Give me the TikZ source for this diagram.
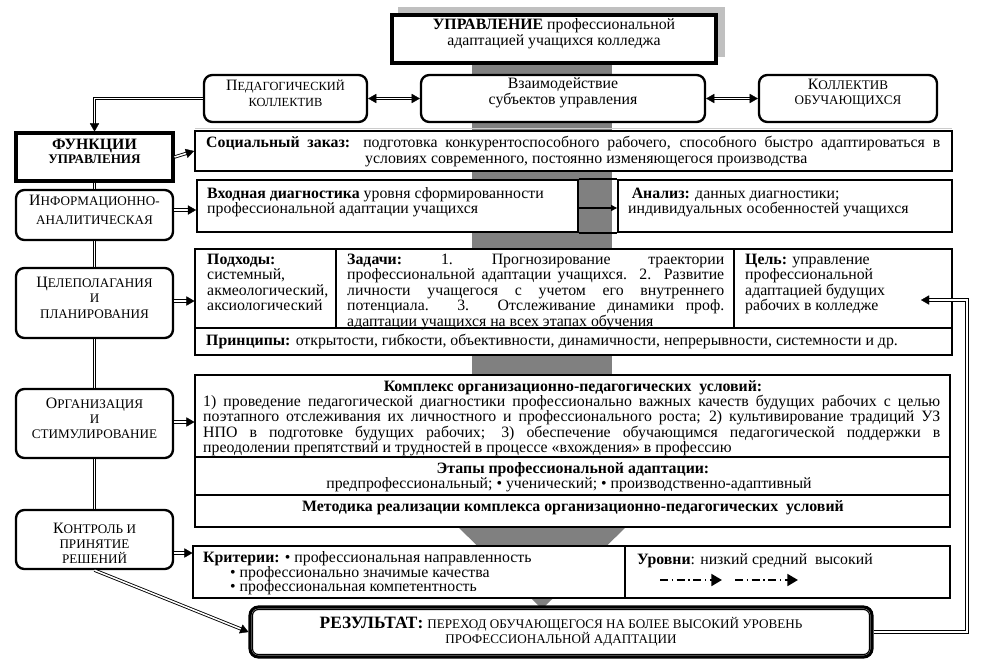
\documentclass[tikz,border=0pt]{standalone}
\usepackage{fontspec}
\setmainfont{Liberation Serif}
\usetikzlibrary{arrows.meta,fit,calc}
\definecolor{lgr}{RGB}{192,192,192}
\definecolor{dgr}{RGB}{128,128,128}
\newcommand{\sca}[1]{{\fontsize{11.2}{12}\selectfont #1}}
\newcommand{\jline}[2]{\makebox[#1][s]{#2}}
\newcommand{\ptop}[1]{\parbox[t]{24cm}{#1}}
\newcommand{\dar}[1]{\draw[dbl, shorten >=6pt] #1; \draw[tipw] #1;}
\newcommand{\ddar}[1]{\draw[dbl, shorten >=6pt, shorten <=6pt] #1; \draw[tipww] #1;}
\begin{document}
\begin{tikzpicture}[x=0.03cm,y=-0.03cm,
  txt/.style={font=\fontsize{13.5}{13.3}\selectfont, inner sep=0pt, anchor=base west},
  ctxt/.style={font=\fontsize{13.5}{13.3}\selectfont, inner sep=0pt, anchor=base},
  rbox/.style={draw, fill=white, line width=2pt, rounded corners=0.25cm, inner sep=0pt, align=center, font=\fontsize{13.5}{13}\selectfont},
  sbox/.style={draw, fill=white, line width=1.6pt, inner sep=0pt},
  tbox/.style={draw, fill=white, line width=0.9pt, inner sep=0pt},
  dbl/.style={draw, line width=0.75pt, double=white, double distance=1.3pt},
  tipw/.style={white, line width=0.3pt, -{Triangle[length=7pt,width=8pt,color=black]}},
  tipww/.style={white, line width=0.3pt, {Triangle[length=7pt,width=8pt,color=black]}-{Triangle[length=7pt,width=8pt,color=black]}},
  lvl/.style={line width=2pt, dash pattern=on 7pt off 3pt on 1.2pt off 3pt, -{Triangle[length=9pt,width=10pt]}},
]
\useasboundingbox (0,0) rectangle (988,661);
% background
\fill[lgr] (398,7) rectangle (725,57);
\fill[dgr] (472,55) rectangle (612,527);
\fill[dgr] (457,526) -- (627,526) -- (542,609) -- cycle;
\draw[gray!40, line width=0.6pt] (195,128) -- (952,128);

% top
\node[draw, fill=white, line width=2.6pt, inner sep=0pt, align=center, font=\fontsize{13.5}{13.5}\selectfont, fit={(392,15) (716,63)}] (top) {\textbf{УПРАВЛЕНИЕ} профессиональной\\адаптацией учащихся колледжа};

\node[rbox, fit={(204,75) (367,122)}] (ped) {П{\fontsize{10.6}{12}\selectfont ЕДАГОГИЧЕСКИЙ}\\{\fontsize{10.6}{12}\selectfont КОЛЛЕКТИВ}};
\node[rbox, fit={(421,75) (705,122)}, font=\fontsize{13.5}{13.5}\selectfont] (vz) {Взаимодействие\\субъектов управления};
\node[rbox, fit={(759,75) (937,122)}] (kol) {К\sca{ОЛЛЕКТИВ}\\\sca{ОБУЧАЮЩИХСЯ}};

% left column
\node[draw, fill=white, line width=2.6pt, inner sep=0pt, align=center, fit={(16,133) (173,181)}] (func) {{\bfseries\fontsize{13.5}{15}\selectfont ФУНКЦИИ}\\{\bfseries\sca{УПРАВЛЕНИЯ}}};
\node[rbox, fit={(16,190) (173,240)}] (info) {И\sca{НФОРМАЦИОННО-}\\[3pt]\sca{АНАЛИТИЧЕСКАЯ}};
\node[rbox, fit={(16,268) (173,338)}] (celi) {Ц\sca{ЕЛЕПОЛАГАНИЯ}\\\sca{И}\\\sca{ПЛАНИРОВАНИЯ}};
\node[rbox, fit={(16,389) (173,458)}] (org) {О\sca{РГАНИЗАЦИЯ}\\\sca{И}\\\sca{СТИМУЛИРОВАНИЕ}};
\node[rbox, fit={(16,510) (173,569)}] (kontr) {};
\node[inner sep=0pt, align=center, font=\fontsize{13.5}{13}\selectfont] (kontrt) at ($(kontr.center)+(0,4)$) {К\sca{ОНТРОЛЬ И}\\\sca{ПРИНЯТИЕ}\\\sca{РЕШЕНИЙ}};

% right blocks
\node[sbox, fit={(195,131) (952,171)}] (soc) {};
\node[sbox, fit={(197,180) (578,232)}] (vhod) {};
\node[sbox, fit={(618,180) (952,232)}] (analiz) {};
\draw[line width=1.6pt] (vhod.north east) -- (analiz.north west);
\draw[line width=1.6pt] (vhod.south east) -- (analiz.south west);

\node[tbox, fit={(195,249) (336,328)}] (podh) {};
\node[tbox, fit={(336,249) (734,328)}] (zad) {};
\node[tbox, fit={(734,249) (952,328)}] (cel) {};
\node[tbox, fit={(195,328) (952,355)}] (princ) {};
\draw[line width=1.8pt] (195,249) -- (357,249);
\draw[line width=1.8pt] (734,249) -- (952,249);

\node[tbox, fit={(195,375) (950,457)}] (k1) {};
\node[tbox, fit={(195,457) (950,495)}] (k2) {};
\node[tbox, fit={(195,495) (950,527)}] (k3) {};

\node[tbox, fit={(193,546) (625,598)}] (kr1) {};
\node[tbox, fit={(625,546) (950,598)}] (kr2) {};

\node[draw, fill=white, line width=2.6pt, rounded corners=0.25cm, inner sep=0pt, fit={(250,607) (872,657)}] (rez) {};
\draw[line width=1pt, rounded corners=0.18cm] ($(rez.north west)+(4,4)$) rectangle ($(rez.south east)+(-4,-4)$);

% texts
\node[txt] (s1) at (206,147) {\jline{22.02cm}{\textbf{Социальный заказ:} подготовка конкурентоспособного рабочего, способного быстро адаптироваться в}};
\node[txt] (s2) at (365,163) {условиях современного, постоянно изменяющегося производства};

\node[txt] (vt) at (207,198) {\ptop{\textbf{Входная диагностика} уровня сформированности\\профессиональной адаптации учащихся}};
\node[txt] (at) at (628,198) {\ptop{\hspace*{3pt}\textbf{Анализ:} данных диагностики;\\индивидуальных особенностей учащихся}};

\node[txt] (pt) at (207,264) {\ptop{\textbf{Подходы:}\\системный,\\акмеологический,\\аксиологический}};
\node[txt] (zt) at (347,264) {\ptop{\jline{11.31cm}{\textbf{Задачи:} \hfill 1. \hfill Прогнозирование \hfill траектории}\\
\jline{11.31cm}{профессиональной адаптации учащихся. 2. Развитие}\\
\jline{11.31cm}{личности учащегося с учетом его внутреннего}\\
\jline{11.31cm}{потенциала. 3. Отслеживание динамики проф.}\\
адаптации учащихся на всех этапах обучения}};
\node[txt] (ct) at (745,264) {\ptop{\textbf{Цель:} управление\\профессиональной\\адаптацией будущих\\рабочих в колледже}};
\node[txt] (prt) at (206,345) {\textbf{Принципы:} открытости, гибкости, объективности, динамичности, непрерывности, системности и др.};

\node[ctxt] (kt) at (573,391) {\textbf{Комплекс организационно-педагогических\ \ условий:}};
\node[txt] (kp) at (203,406) {\ptop{\jline{22.11cm}{1) проведение педагогической диагностики профессионально важных качеств будущих рабочих с целью}\\
\jline{22.11cm}{поэтапного отслеживания их личностного и профессионального роста; 2) культивирование традиций УЗ}\\
\jline{22.11cm}{НПО в подготовке будущих рабочих; 3) обеспечение обучающимся педагогической поддержки в}\\
преодолении препятствий и трудностей в процессе «вхождения» в профессию}};
\node[ctxt] (et1) at (573,473) {\textbf{Этапы профессиональной адаптации:}};
\node[ctxt] (et2) at (569,488) {предпрофессиональный; • ученический; • производственно-адаптивный};
\node[ctxt] (mt) at (573,511) {\textbf{Методика реализации комплекса организационно-педагогических\ \ условий}};

\node[txt] (krt1) at (203,562) {\textbf{Критерии:} • профессиональная направленность};
\node[txt] (krt2) at (230,577) {• профессионально значимые качества};
\node[txt] (krt3) at (230,591) {• профессиональная компетентность};
\node[txt] (ut) at (637,564) {\textbf{Уровни}: низкий средний\ \ высокий};
\coordinate (u1) at (660,580);
\coordinate (u2) at (722,580);
\coordinate (u3) at (735,580);
\coordinate (u4) at (798,580);
\draw[lvl] (u1) -- (u2);
\draw[lvl] (u3) -- (u4);

\node[ctxt] (rt1) at (561,628) {{\bfseries\fontsize{14.8}{15}\selectfont РЕЗУЛЬТАТ:} \sca{ПЕРЕХОД ОБУЧАЮЩЕГОСЯ НА БОЛЕЕ ВЫСОКИЙ УРОВЕНЬ}};
\node[ctxt] (rt2) at (561,643) {\sca{ПРОФЕССИОНАЛЬНОЙ АДАПТАЦИИ}};

% connectors
\ddar{(ped.east) -- (vz.west)}
\ddar{(vz.east) -- (kol.west)}
\dar{(ped.west) -- (ped.west -| func.north) -- (func.north)}
\dar{(func.east) -- (soc.west)}
\dar{(info.east |- 0,210) -- (vhod.west |- 0,210)}
\draw[line width=0.9pt, -{Triangle[length=5pt,width=5pt]}] (vhod.east |- 0,208) -- (analiz.west |- 0,208);
\dar{(celi.east |- 0,301) -- (podh.west |- 0,301)}
\dar{(org.east |- 0,422) -- (k1.west |- 0,422)}
\dar{(kontr.east |- 0,553) -- (kr1.west |- 0,553)}
\dar{(kontr.south) -- (rez.west)}
\coordinate (fbtop) at (967,300);
\coordinate (fbend) at (921,300);
\dar{(rez.east) -- (rez.east -| fbtop) -- (fbtop) -- (fbend)}
\draw[dbl] (func.south) -- (info.north);
\draw[dbl] (info.south) -- (celi.north);
\draw[dbl] (celi.south) -- (org.north);
\draw[dbl] (org.south) -- (kontr.north);
\end{tikzpicture}
\end{document}
